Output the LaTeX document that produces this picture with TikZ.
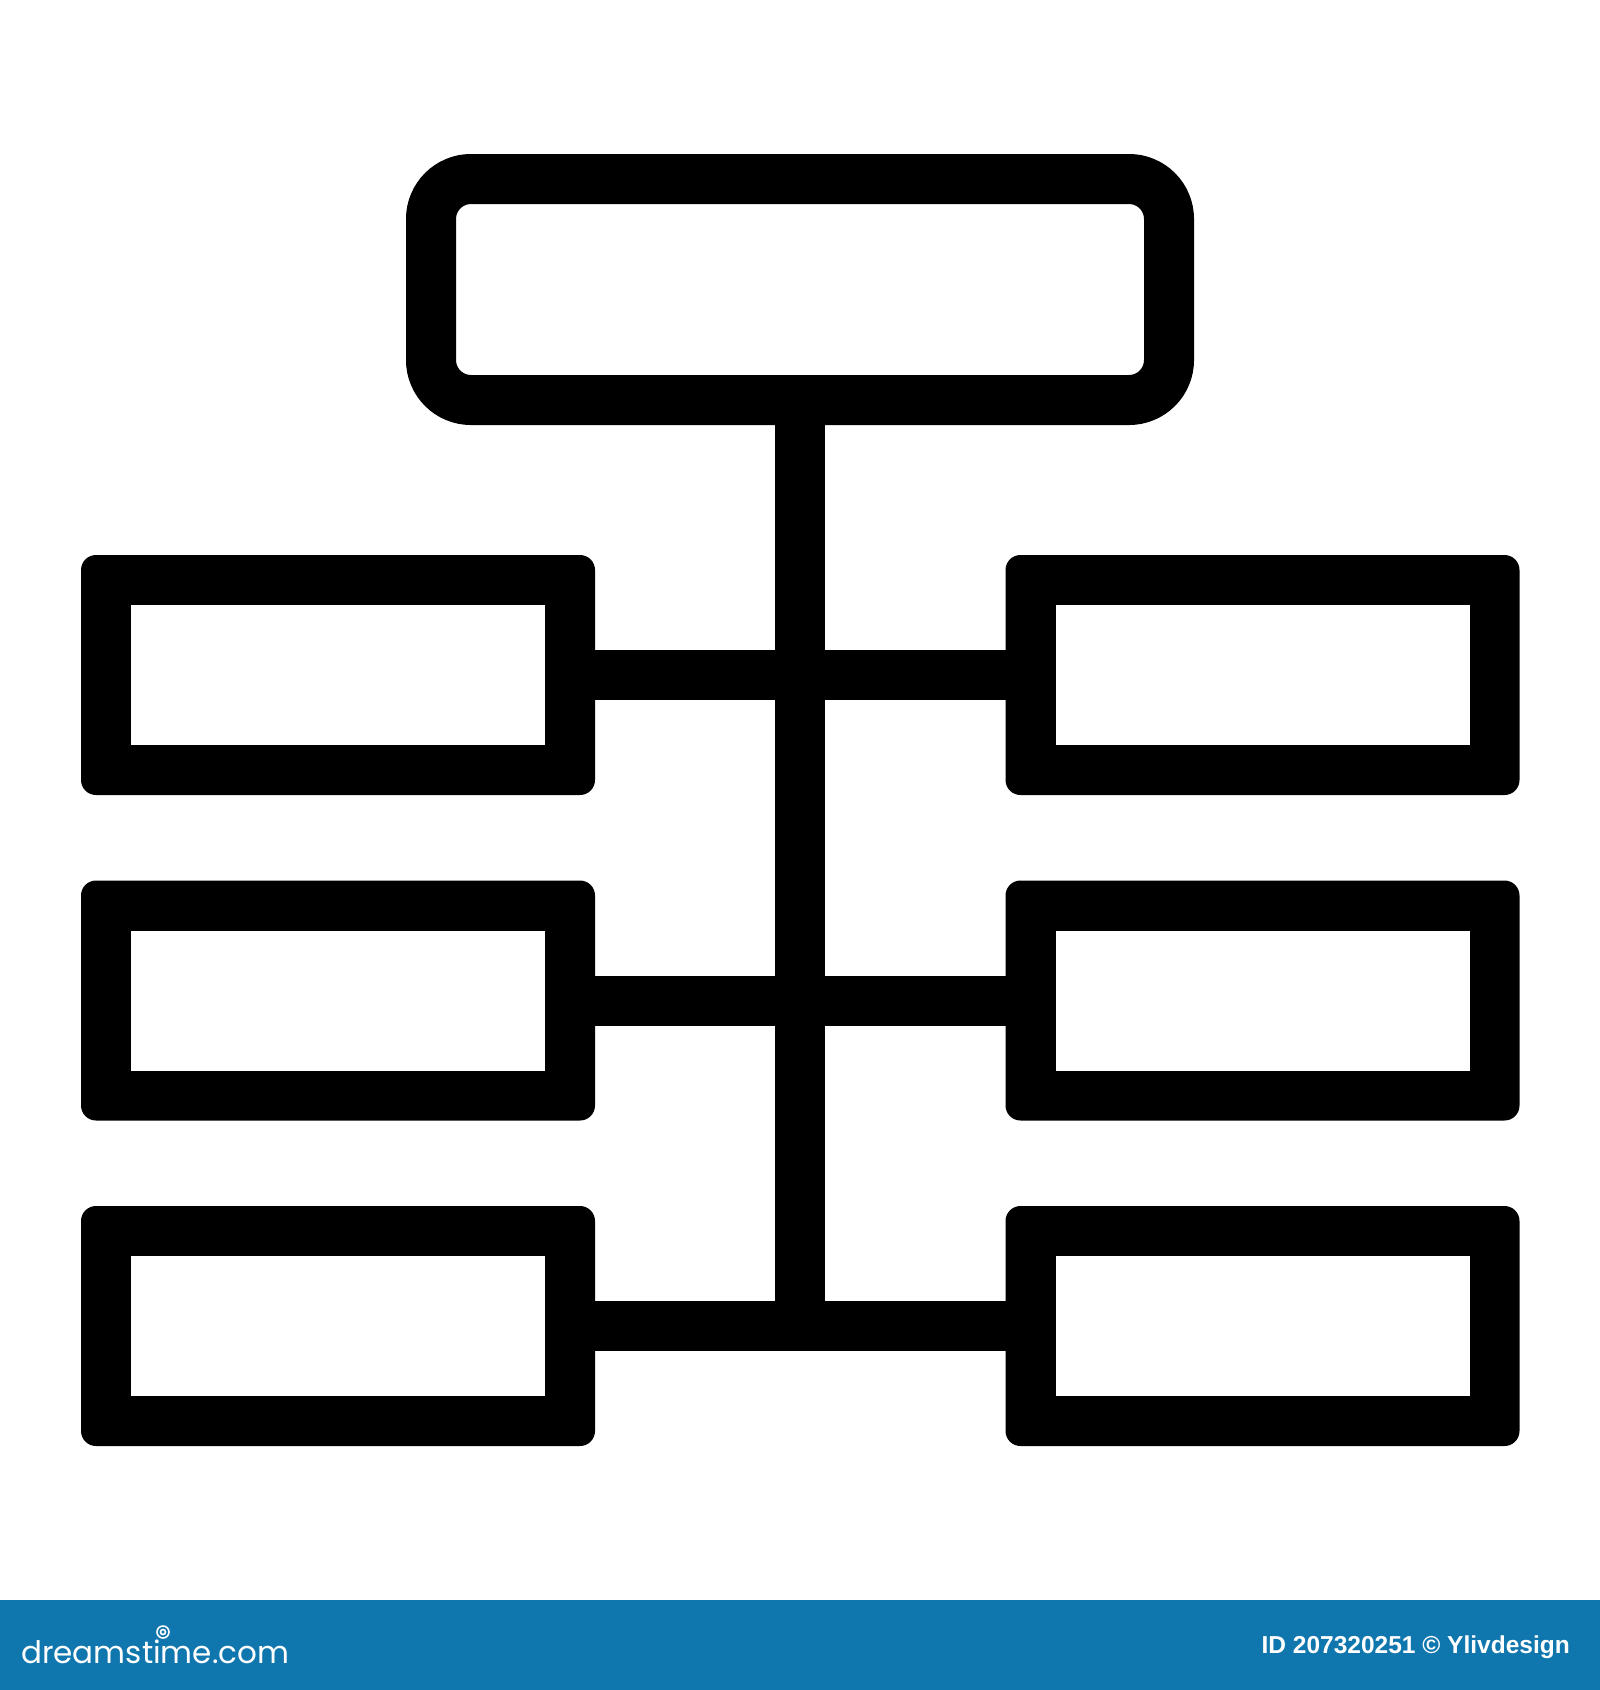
\documentclass[tikz,border=0pt]{standalone}
\usepackage{fontspec}
\setmainfont{Liberation Sans}
\newfontfamily\logofont{Poppins}
\definecolor{bannerblue}{RGB}{16,118,174}
\begin{document}
\begin{tikzpicture}[x=1pt,y=-1pt,
  leafbox/.style={fill=black, rounded corners=15pt, minimum width=514pt, minimum height=240pt, inner sep=0pt, outer sep=0pt},
  leafhole/.style={fill=white, minimum width=414pt, minimum height=140pt, inner sep=0pt, outer sep=0pt},
  rootbox/.style={draw=black, fill=white, line width=50pt, rounded corners=40pt, minimum width=738pt, minimum height=221pt, inner sep=0pt, outer sep=0pt},
  link/.style={line width=50pt, draw=black},
  bannertext/.style={text=white, inner sep=0pt}]
\fill[white] (0,0) rectangle (1600,1690);
\useasboundingbox (0,0) rectangle (1600,1690);
% root
\node[rootbox] (T) at (800,289.5) {};
% leaves
\node[leafbox] (L1) at (338,675) {};
\node[leafbox] (L2) at (338,1000.5) {};
\node[leafbox] (L3) at (338,1326) {};
\node[leafbox] (R1) at (1262.5,675) {};
\node[leafbox] (R2) at (1262.5,1000.5) {};
\node[leafbox] (R3) at (1262.5,1326) {};
\node[leafhole] (L1h) at (L1) {};
\node[leafhole] (L2h) at (L2) {};
\node[leafhole] (L3h) at (L3) {};
\node[leafhole] (R1h) at (R1) {};
\node[leafhole] (R2h) at (R2) {};
\node[leafhole] (R3h) at (R3) {};
% connectors
\coordinate (stemend) at (800,1326);
\draw[link] (T.south) -- (stemend);
\draw[link] (L1.east) -- (R1.west);
\draw[link] (L2.east) -- (R2.west);
\draw[link] (L3.east) -- (R3.west);
% banner
\fill[bannerblue] (0,1600) rectangle (1600,1690);
\node[bannertext, anchor=base west, font=\logofont\fontsize{31}{31}\selectfont] (logo) at (21,1663) {dreamstime.com};
\draw[white, line width=1.6pt] (163,1632) circle (6) (163,1632) circle (2.5);
\node[bannertext, anchor=base east, font=\bfseries\fontsize{24.5}{24.5}\selectfont] (credit) at (1570,1653) {ID 207320251 © Ylivdesign};
\end{tikzpicture}
\end{document}
